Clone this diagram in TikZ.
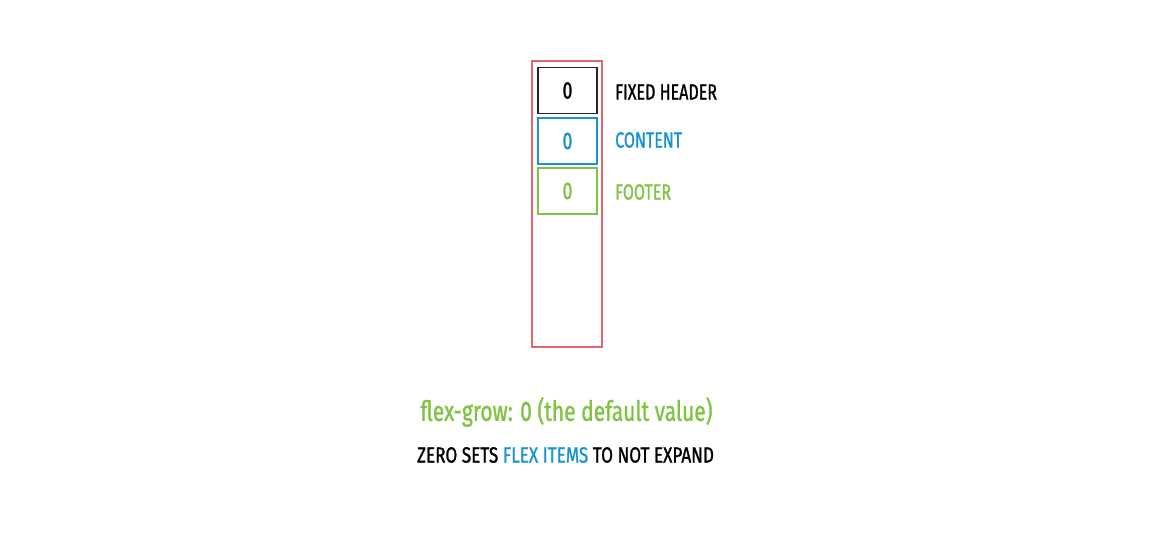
\documentclass[tikz,border=0pt]{standalone}
\usepackage{fontspec}
\setmainfont[FakeStretch=0.74,FakeBold=1.2]{Fira Sans}
\newfontfamily\labfont[FakeStretch=0.73,FakeBold=1.2]{Fira Sans}
\newfontfamily\subfont[FakeStretch=0.78,FakeBold=1.2]{Fira Sans}
\newfontfamily\titfont[FakeStretch=0.75,FakeBold=1.0]{Fira Sans}
\definecolor{fred}{HTML}{E5656C}
\definecolor{fblue}{HTML}{1A93D3}
\definecolor{fgreen}{HTML}{80C342}
\begin{document}
\begin{tikzpicture}[x=1pt,y=-1pt,
  itembox/.style={draw,line width=1.2pt,minimum width=59pt,minimum height=46pt,inner sep=0pt,font=\labfont\fontsize{24}{24}\selectfont},
  lab/.style={anchor=west,inner sep=0pt,font=\labfont\fontsize{22}{22}\selectfont}]
\useasboundingbox (0,0) rectangle (1159,543);
\node[draw=fred,line width=1.5pt,minimum width=70pt,minimum height=286pt,inner sep=0pt] (outer) at (567,204) {};
\node[itembox,draw=black!85,text=black] (hdr) at (567.5,90.5) {0};
\node[itembox,draw=fblue,text=fblue] (cnt) at (567.5,141) {0};
\node[itembox,draw=fgreen,text=fgreen] (ftr) at (567.5,191) {0};
\node[lab,text=black] (lhdr) at (615,92) {FIXED HEADER};
\node[lab,text=fblue] (lcnt) at (615,140) {CONTENT};
\node[lab,text=fgreen] (lftr) at (615,192) {FOOTER};
\node[inner sep=0pt,text=fgreen,font=\titfont\fontsize{28}{28}\selectfont] (title) at (566.5,412) {flex-grow: 0 (the default value)};
\node[inner sep=0pt,font=\subfont\fontsize{22}{22}\selectfont] (sub) at (565.5,455) {ZERO SETS \textcolor{fblue}{FLEX ITEMS} TO NOT EXPAND};
\end{tikzpicture}
\end{document}
